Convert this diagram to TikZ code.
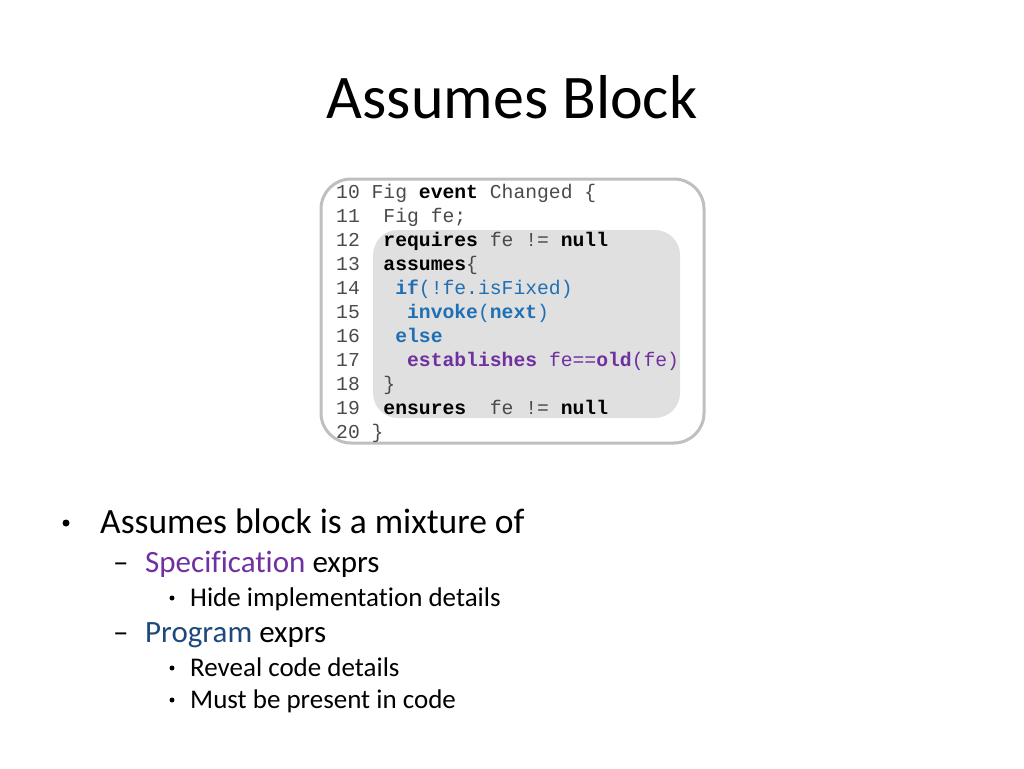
\documentclass[tikz,border=0pt]{standalone}
\usepackage{fontspec}
\setmainfont[Ligatures={NoCommon}]{Carlito}
\newfontfamily\codefont{Liberation Mono}
\definecolor{codegray}{HTML}{4A4A4A}
\definecolor{kwblue}{HTML}{1F6FB4}
\definecolor{kwpurple}{HTML}{7030A0}
\definecolor{progblue}{HTML}{1F497D}
\begin{document}
\begin{tikzpicture}[x=1pt,y=-1pt,
  code/.style={anchor=base west,inner sep=0pt,font=\codefont\fontsize{19.7}{19.7}\selectfont,text=codegray},
  lvl1/.style={anchor=base west,inner sep=0pt,font=\fontsize{35.5}{35.5}\selectfont},
  lvl2/.style={anchor=base west,inner sep=0pt,font=\fontsize{31}{31}\selectfont},
  lvl3/.style={anchor=base west,inner sep=0pt,font=\fontsize{27}{27}\selectfont},
  dot/.style={circle,fill=black,inner sep=0pt}]
\useasboundingbox (0,0) rectangle (1024,768);
\node[font=\fontsize{62}{62}\selectfont] (title) at (512,97) {Assumes Block};
\draw[line width=3pt,draw=black!25,rounded corners=30] (321,179) rectangle (704,443);
\fill[black!12,rounded corners=25] (373,230) rectangle (680,418);
\def\b#1{\textbf{\color{black}#1}}
\node[code] (l10) at (336,198) {10 Fig \b{event} Changed \{};
\node[code] (l11) at (336,222) {11\ \ Fig fe;};
\node[code] (l12) at (336,246) {12\ \ \b{requires} fe != \b{null}};
\node[code] (l13) at (336,270) {13\ \ \b{assumes}\{};
\node[code,text=kwblue] (l14) at (336,294) {\color{codegray}14\ \ \ \color{kwblue}\textbf{if}(!fe.isFixed)};
\node[code,text=kwblue] (l15) at (336,318) {\color{codegray}15\ \ \ \ \color{kwblue}\textbf{invoke}(\textbf{next})};
\node[code] (l16) at (336,342) {16\ \ \ \textcolor{kwblue}{\textbf{else}}};
\node[code] (l17) at (336,366) {17\ \ \ \ \color{kwpurple}\textbf{establishes} fe==\textbf{old}(fe)};
\node[code] (l18) at (336,390) {18\ \ \}};
\node[code] (l19) at (336,414) {19\ \ \b{ensures}\ \ fe != \b{null}};
\node[code] (l20) at (336,438) {20 \}};
\node[dot,minimum size=7pt] (b1d) at (66,523) {};
\node[lvl1] (b1) at (100,533) {Assumes block is a mixture of};
\node[lvl2] (b2d) at (113,572) {–};
\node[lvl2] (b2) at (145,572) {\textcolor{kwpurple}{Specification} exprs};
\node[dot,minimum size=5pt] (b3d) at (172,598) {};
\node[lvl3] (b3) at (190,606) {Hide implementation details};
\node[lvl2] (b4d) at (113,642) {–};
\node[lvl2] (b4) at (145,642) {\textcolor{progblue}{Program} exprs};
\node[dot,minimum size=5pt] (b5d) at (172,668) {};
\node[lvl3] (b5) at (190,676) {Reveal code details};
\node[dot,minimum size=5pt] (b6d) at (172,700) {};
\node[lvl3] (b6) at (190,708) {Must be present in code};
\end{tikzpicture}
\end{document}
